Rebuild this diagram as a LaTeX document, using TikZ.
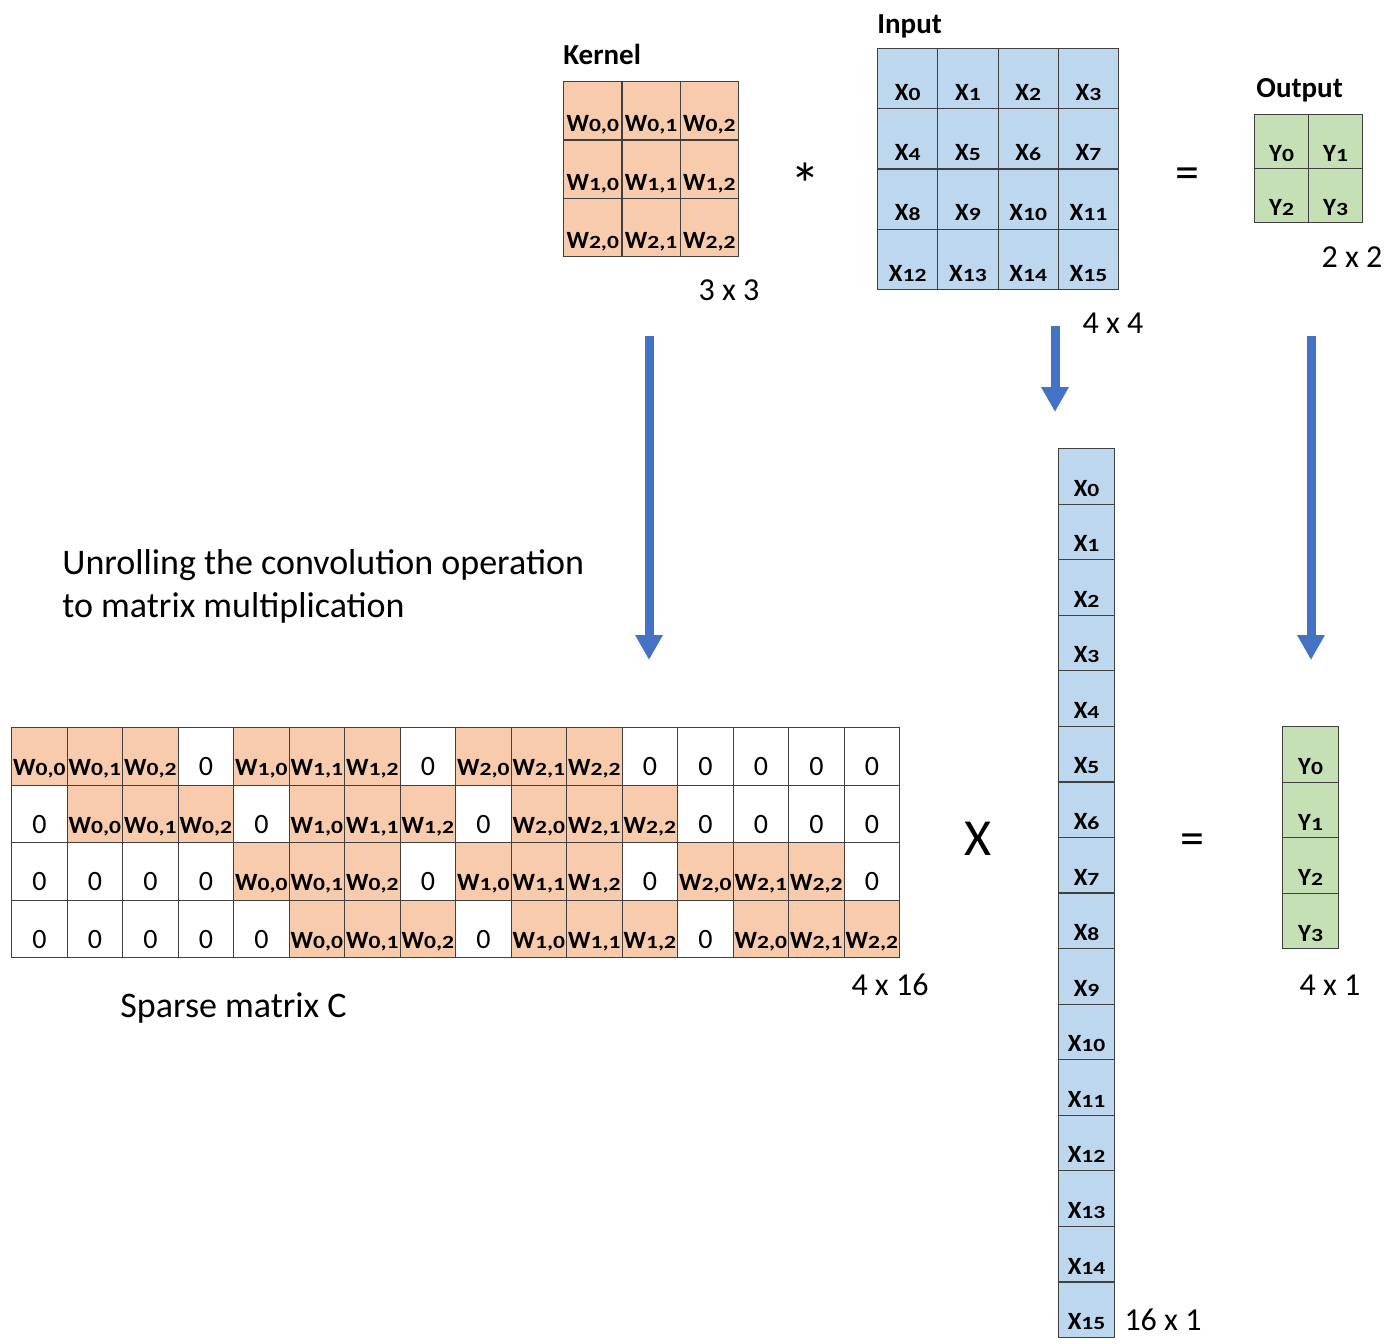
\documentclass[tikz,border=0pt]{standalone}
\usepackage{fontspec}
\setmainfont{Carlito}
\usetikzlibrary{arrows.meta}

\definecolor{kernelfill}{HTML}{F8CBAD}
\definecolor{inputfill}{HTML}{BDD7EE}
\definecolor{outputfill}{HTML}{C5E0B4}
\definecolor{gridline}{HTML}{404040}
\definecolor{arrowblue}{HTML}{4472C4}

% index digits, low and squat as in the cells
\newcommand{\idx}[1]{\scalebox{0.95}[0.75]{#1}}
\newcommand{\wsub}[2]{W\idx{#1,#2}}
\newcommand{\xsub}[1]{X\idx{#1}}
\newcommand{\ysub}[1]{Y\idx{#1}}

\tikzset{
  cell/.style={draw=gridline, line width=0.6pt, inner sep=0pt, anchor=north west,
    text depth=0pt, font=\fontsize{12.4}{14}\selectfont\bfseries},
  kcell/.style={cell, fill=kernelfill, minimum width=29.17pt, minimum height=29.17pt, text height=21.2pt},
  icell/.style={cell, fill=inputfill, minimum width=30.12pt, minimum height=30.12pt, text height=21.6pt},
  ocell/.style={cell, fill=outputfill, minimum width=27pt, minimum height=27pt, text height=19.4pt},
  vcell/.style={cell, fill=inputfill, minimum width=28pt, minimum height=27.78pt, text height=19.8pt},
  ycell/.style={cell, fill=outputfill, minimum width=28pt, minimum height=27.75pt, text height=20.5pt},
  scell/.style={cell, minimum width=27.75pt, minimum height=28.75pt, text height=19.6pt},
  zero/.style={fill=white, font=\fontsize{14}{16}\selectfont},
  title/.style={anchor=base west, inner sep=0pt, font=\fontsize{14.5}{17}\selectfont\bfseries},
  dims/.style={anchor=base, font=\fontsize{16}{19}\selectfont},
  caption/.style={anchor=base west, inner sep=0pt, font=\fontsize{18}{22}\selectfont},
  op/.style={anchor=base, font=\fontsize{24}{28}\selectfont},
  unroll/.style={draw=arrowblue, line width=4.5pt, -{Triangle[width=13pt,length=12.5pt]}},
}

\begin{document}
\begin{tikzpicture}[x=0.5pt, y=-0.5pt]
  \useasboundingbox (0,0) rectangle (1398,1344);

  % Kernel 3 x 3
  \node[title] (kerneltitle) at (563,64) {Kernel};
  \foreach \r in {0,1,2}
    \foreach \c in {0,1,2}
      \node[kcell] (k\r\c) at ({563+58.33*\c},{81+58.33*\r}) {\wsub{\r}{\c}};
  \node[dims] (kerneldim) at (729,300) {3 x 3};

  \node[op, font=\fontsize{30}{34}\selectfont] (conv) at (805,205) {*};

  % Input 4 x 4
  \node[title] (inputtitle) at (877,33) {Input};
  \foreach \r in {0,...,3}
    \foreach \c in {0,...,3} {
      \pgfmathtruncatemacro\n{4*\r+\c}
      \node[icell] (in\n) at ({877+60.25*\c},{48+60.25*\r}) {\xsub{\n}};
    }
  \node[dims] (inputdim) at (1113,333) {4 x 4};

  \node[op] (eqtop) at (1187,188) {=};

  % Output 2 x 2
  \node[title] (outputtitle) at (1256,97) {Output};
  \foreach \r in {0,1}
    \foreach \c in {0,1} {
      \pgfmathtruncatemacro\n{2*\r+\c}
      \node[ocell] (out\n) at ({1254+54*\c},{114+54*\r}) {\ysub{\n}};
    }
  \node[dims] (outputdim) at (1352,267) {2 x 2};

  % Arrows down
  \coordinate (kstart) at (649,336);
  \coordinate (kend) at (649,660);
  \coordinate (istart) at (1055,326);
  \coordinate (iend) at (1055,412);
  \coordinate (ostart) at (1311,336);
  \coordinate (oend) at (1311,660);
  \draw[unroll] (kstart) -- (kend);
  \draw[unroll] (istart) -- (iend);
  \draw[unroll] (ostart) -- (oend);

  \node[caption] (unroll1) at (62,574) {Unrolling the convolution operation};
  \node[caption] (unroll2) at (62,617) {to matrix multiplication};

  % Sparse matrix C, 4 x 16
  \foreach \r/\off in {0/0,1/1,2/4,3/5}
    \foreach \c in {0,...,15} {
      \pgfmathtruncatemacro\k{\c-\off}
      \pgfmathtruncatemacro\isw{(\k>=0)&&(\k<=10)&&(mod(\k+8,4)!=3)}
      \ifnum\isw=1
        \pgfmathtruncatemacro\i{div(\k,4)}
        \pgfmathtruncatemacro\j{mod(\k,4)}
        \node[scell, fill=kernelfill] (s\r-\c) at ({11+55.5*\c},{727+57.5*\r}) {\wsub{\i}{\j}};
      \else
        \node[scell, zero] (s\r-\c) at ({11+55.5*\c},{727+57.5*\r}) {0};
      \fi
    }
  \node[dims] (sparsedim) at (890,995) {4 x 16};
  \node[caption] (sparsename) at (120,1017) {Sparse matrix C};

  \node[op, font=\fontsize{26}{30}\selectfont] (times) at (978,855) {X};

  % Flattened input 16 x 1
  \foreach \n in {0,...,15}
    \node[vcell] (v\n) at (1058,{448+55.56*\n}) {\xsub{\n}};
  \node[dims] (vectordim) at (1163,1330) {16 x 1};

  \node[op] (eqbottom) at (1192,854) {=};

  % Flattened output 4 x 1
  \foreach \n in {0,...,3}
    \node[ycell] (y\n) at (1282,{726+55.5*\n}) {\ysub{\n}};
  \node[dims] (resultdim) at (1330,995) {4 x 1};
\end{tikzpicture}
\end{document}
